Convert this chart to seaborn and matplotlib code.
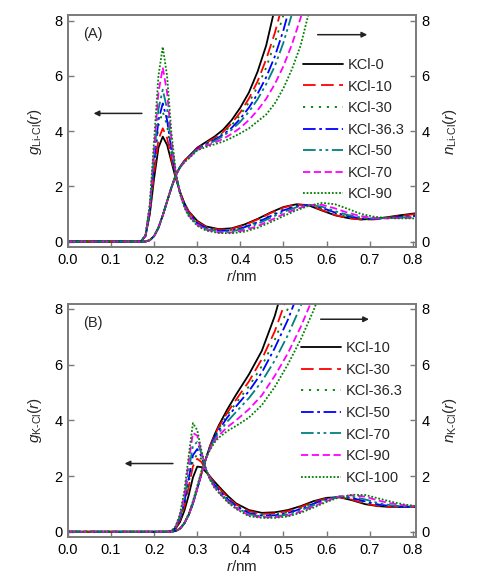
import numpy as np
import pandas as pd
import matplotlib
matplotlib.use("Agg")
import matplotlib.pyplot as plt
import seaborn as sns

# ---------------- data ----------------
# Panel A : Li-Cl
seriesA = ["KCl-0", "KCl-10", "KCl-30", "KCl-36.3", "KCl-50", "KCl-70", "KCl-90"]
r_gA = [0.00, 0.16, 0.17, 0.18, 0.19, 0.20, 0.21, 0.22, 0.23, 0.24, 0.25, 0.26, 0.27, 0.28,
        0.30, 0.32, 0.35, 0.38, 0.41, 0.44, 0.47, 0.50, 0.53, 0.56, 0.59, 0.62, 0.65, 0.68,
        0.71, 0.74, 0.77, 0.81]
gA_0 = [0, 0, 0.02, 0.20, 1.00, 2.30, 3.40, 3.80, 3.50, 2.90, 2.30, 1.80, 1.40, 1.10,
        0.75, 0.55, 0.45, 0.48, 0.62, 0.82, 1.05, 1.25, 1.35, 1.30, 1.12, 0.95, 0.85, 0.80,
        0.82, 0.88, 0.95, 1.03]
gA_10 = [0, 0, 0.02, 0.20, 1.05, 2.50, 3.70, 4.10, 3.75, 3.00, 2.35, 1.80, 1.38, 1.08,
         0.72, 0.53, 0.43, 0.46, 0.60, 0.80, 1.03, 1.23, 1.35, 1.32, 1.14, 0.96, 0.85, 0.80,
         0.80, 0.86, 0.93, 1.00]
gA_30 = [0, 0, 0.02, 0.22, 1.10, 2.80, 4.20, 4.70, 4.20, 3.20, 2.40, 1.78, 1.34, 1.03,
         0.68, 0.50, 0.40, 0.42, 0.54, 0.72, 0.95, 1.16, 1.30, 1.33, 1.20, 1.02, 0.90, 0.83,
         0.82, 0.86, 0.90, 0.95]
gA_363 = [0, 0, 0.02, 0.22, 1.15, 2.90, 4.40, 5.00, 4.40, 3.30, 2.42, 1.77, 1.32, 1.01,
          0.66, 0.49, 0.39, 0.40, 0.52, 0.70, 0.92, 1.13, 1.28, 1.33, 1.22, 1.05, 0.92, 0.84,
          0.82, 0.85, 0.89, 0.93]
gA_50 = [0, 0, 0.02, 0.23, 1.20, 3.10, 4.80, 5.50, 4.80, 3.45, 2.45, 1.75, 1.30, 0.98,
         0.63, 0.46, 0.36, 0.37, 0.47, 0.64, 0.86, 1.07, 1.24, 1.33, 1.26, 1.10, 0.96, 0.87,
         0.83, 0.84, 0.87, 0.90]
gA_70 = [0, 0, 0.02, 0.24, 1.30, 3.40, 5.40, 6.30, 5.40, 3.70, 2.50, 1.73, 1.27, 0.95,
         0.60, 0.43, 0.33, 0.33, 0.41, 0.56, 0.77, 0.99, 1.18, 1.32, 1.33, 1.20, 1.04, 0.92,
         0.86, 0.84, 0.85, 0.86]
gA_90 = [0, 0, 0.02, 0.25, 1.40, 3.70, 6.00, 7.05, 6.00, 3.95, 2.55, 1.72, 1.24, 0.92,
         0.57, 0.40, 0.31, 0.30, 0.36, 0.50, 0.70, 0.92, 1.13, 1.30, 1.40, 1.35, 1.18, 1.00,
         0.90, 0.85, 0.84, 0.84]

r_nA = [0.00, 0.17, 0.18, 0.19, 0.20, 0.21, 0.22, 0.23, 0.24, 0.25, 0.26, 0.27, 0.28,
        0.30, 0.32, 0.34, 0.36, 0.38, 0.40, 0.42, 0.44, 0.46, 0.48, 0.50, 0.52, 0.54, 0.56, 0.58]
nA_0 = [0, 0, 0, 0.05, 0.20, 0.50, 0.95, 1.45, 1.95, 2.40, 2.70, 2.92, 3.08,
        3.40, 3.60, 3.80, 4.05, 4.40, 4.85, 5.40, 6.15, 7.10, 8.45, 10.0, 11.6, 13.2, 14.8, 16.4]
nA_10 = [0, 0, 0, 0.05, 0.20, 0.50, 0.95, 1.45, 1.95, 2.40, 2.70, 2.92, 3.08,
         3.38, 3.57, 3.75, 3.97, 4.28, 4.68, 5.18, 5.80, 6.60, 7.55, 8.70, 10.2, 11.8, 13.4, 15.0]
nA_30 = [0, 0, 0, 0.05, 0.20, 0.50, 0.95, 1.45, 1.95, 2.40, 2.70, 2.91, 3.06,
         3.37, 3.55, 3.72, 3.93, 4.22, 4.58, 5.04, 5.60, 6.30, 7.20, 8.20, 9.60, 11.2, 12.8, 14.4]
nA_363 = [0, 0, 0, 0.05, 0.20, 0.50, 0.95, 1.45, 1.95, 2.40, 2.69, 2.90, 3.05,
          3.35, 3.52, 3.68, 3.87, 4.12, 4.45, 4.85, 5.35, 5.95, 6.70, 7.65, 8.80, 10.3, 11.9, 13.5]
nA_50 = [0, 0, 0, 0.05, 0.20, 0.50, 0.95, 1.45, 1.95, 2.40, 2.69, 2.89, 3.04,
         3.34, 3.50, 3.64, 3.82, 4.05, 4.34, 4.70, 5.15, 5.70, 6.35, 7.20, 8.25, 9.60, 11.1, 12.7]
nA_70 = [0, 0, 0, 0.05, 0.20, 0.50, 0.95, 1.45, 1.95, 2.40, 2.68, 2.88, 3.02,
         3.32, 3.46, 3.58, 3.72, 3.90, 4.12, 4.40, 4.75, 5.17, 5.70, 6.35, 7.15, 8.10, 9.50, 11.0]
nA_90 = [0, 0, 0, 0.05, 0.20, 0.50, 0.95, 1.45, 1.95, 2.40, 2.68, 2.87, 3.00,
         3.30, 3.42, 3.52, 3.62, 3.76, 3.92, 4.10, 4.35, 4.60, 5.00, 5.55, 6.25, 7.10, 8.35, 10.0]

# Panel B : K-Cl
seriesB = ["KCl-10", "KCl-30", "KCl-36.3", "KCl-50", "KCl-70", "KCl-90", "KCl-100"]
r_gB = [0.00, 0.22, 0.23, 0.24, 0.25, 0.26, 0.27, 0.28, 0.29, 0.30, 0.31, 0.32, 0.33, 0.34,
        0.35, 0.37, 0.39, 0.42, 0.45, 0.48, 0.51, 0.54, 0.57, 0.60, 0.63, 0.66, 0.69, 0.72,
        0.75, 0.78, 0.81]
gB_10 = [0, 0, 0, 0.02, 0.12, 0.35, 0.75, 1.30, 1.95, 2.34, 2.32, 2.15, 1.98, 1.80,
         1.63, 1.30, 1.02, 0.78, 0.68, 0.70, 0.78, 0.92, 1.10, 1.22, 1.24, 1.13, 0.99, 0.92,
         0.89, 0.89, 0.90]
gB_30 = [0, 0, 0, 0.02, 0.14, 0.42, 0.90, 1.60, 2.35, 2.62, 2.50, 2.20, 1.96, 1.76,
         1.58, 1.25, 0.98, 0.74, 0.64, 0.66, 0.74, 0.89, 1.07, 1.20, 1.24, 1.15, 1.01, 0.93,
         0.89, 0.89, 0.90]
gB_363 = [0, 0, 0, 0.02, 0.15, 0.45, 0.98, 1.75, 2.55, 2.78, 2.60, 2.22, 1.94, 1.72,
          1.54, 1.21, 0.95, 0.70, 0.61, 0.62, 0.70, 0.85, 1.04, 1.19, 1.25, 1.18, 1.05, 0.96,
          0.91, 0.90, 0.90]
gB_50 = [0, 0, 0, 0.02, 0.16, 0.50, 1.05, 1.90, 2.75, 2.97, 2.70, 2.24, 1.92, 1.69,
         1.50, 1.18, 0.92, 0.67, 0.58, 0.59, 0.67, 0.82, 1.01, 1.17, 1.26, 1.21, 1.09, 0.98,
         0.92, 0.90, 0.90]
gB_70 = [0, 0, 0, 0.02, 0.17, 0.55, 1.15, 2.15, 3.10, 3.22, 2.80, 2.24, 1.90, 1.65,
         1.46, 1.13, 0.88, 0.63, 0.55, 0.55, 0.62, 0.77, 0.96, 1.13, 1.27, 1.26, 1.16, 1.03,
         0.95, 0.91, 0.90]
gB_90 = [0, 0, 0, 0.03, 0.19, 0.60, 1.30, 2.50, 3.55, 3.45, 2.85, 2.24, 1.87, 1.60,
         1.42, 1.09, 0.85, 0.59, 0.52, 0.52, 0.58, 0.72, 0.91, 1.10, 1.27, 1.31, 1.26, 1.12,
         1.02, 0.95, 0.91]
gB_100 = [0, 0, 0, 0.03, 0.20, 0.65, 1.45, 2.70, 3.90, 3.65, 2.90, 2.25, 1.85, 1.58,
          1.40, 1.07, 0.82, 0.56, 0.50, 0.50, 0.55, 0.68, 0.87, 1.07, 1.24, 1.33, 1.32, 1.20,
          1.08, 0.98, 0.92]

r_nB = [0.00, 0.24, 0.25, 0.26, 0.27, 0.28, 0.29, 0.30, 0.31, 0.32, 0.33, 0.34, 0.35,
        0.37, 0.39, 0.42, 0.45, 0.48, 0.51, 0.54, 0.57, 0.60]
nB_10 = [0, 0, 0.03, 0.11, 0.30, 0.60, 1.02, 1.55, 2.10, 2.62, 3.10, 3.48, 3.82,
         4.40, 4.92, 5.65, 6.50, 7.75, 9.40, 11.0, 12.7, 14.4]
nB_30 = [0, 0, 0.03, 0.11, 0.30, 0.60, 1.02, 1.55, 2.10, 2.62, 3.08, 3.45, 3.77,
         4.28, 4.74, 5.40, 6.20, 7.20, 8.50, 10.0, 11.6, 13.2]
nB_363 = [0, 0, 0.03, 0.11, 0.30, 0.60, 1.02, 1.55, 2.10, 2.62, 3.06, 3.42, 3.71,
          4.20, 4.62, 5.22, 5.95, 6.90, 8.00, 9.40, 10.9, 12.5]
nB_50 = [0, 0, 0.03, 0.11, 0.30, 0.60, 1.02, 1.55, 2.10, 2.62, 3.04, 3.38, 3.65,
         4.11, 4.50, 5.05, 5.72, 6.60, 7.60, 8.80, 10.2, 11.8]
nB_70 = [0, 0, 0.03, 0.11, 0.30, 0.60, 1.02, 1.55, 2.10, 2.62, 3.01, 3.32, 3.56,
         3.96, 4.30, 4.80, 5.40, 6.15, 7.05, 8.10, 9.30, 10.8]
nB_90 = [0, 0, 0.03, 0.11, 0.30, 0.60, 1.02, 1.55, 2.10, 2.62, 2.98, 3.25, 3.46,
         3.76, 4.00, 4.40, 4.90, 5.60, 6.40, 7.35, 8.45, 9.80]
nB_100 = [0, 0, 0.03, 0.12, 0.32, 0.65, 1.10, 1.65, 2.20, 2.65, 2.95, 3.20, 3.38,
          3.62, 3.80, 4.10, 4.55, 5.20, 6.00, 6.90, 7.95, 9.20]

gA = [gA_0, gA_10, gA_30, gA_363, gA_50, gA_70, gA_90]
nA = [nA_0, nA_10, nA_30, nA_363, nA_50, nA_70, nA_90]
gB = [gB_10, gB_30, gB_363, gB_50, gB_70, gB_90, gB_100]
nB = [nB_10, nB_30, nB_363, nB_50, nB_70, nB_90, nB_100]

# ---------------- styles ----------------
colors = ["#000000", "#ff0000", "#008000", "#0000ff", "#008080", "#ff00ff", "#008000"]
styles = ["-", (0, (7, 3)), (0, (1.2, 3.2)), (0, (7, 2, 1.5, 2)),
          (0, (7, 2, 1.5, 2, 1.5, 2)), (0, (4, 2)), (0, (1, 1))]

sns.set_theme(style="ticks")
plt.rcParams["font.family"] = ["Liberation Sans", "DejaVu Sans"]
plt.rcParams["mathtext.fontset"] = "custom"
plt.rcParams["mathtext.rm"] = "Liberation Sans"
plt.rcParams["mathtext.it"] = "Liberation Sans:italic"

spine_c = "#7a7a7a"
fig = plt.figure(figsize=(4.89, 5.8), dpi=100)


def panel(rect, names, r_g, gs, r_n, ns, tag, glabel, nlabel, ylim, leg_anchor,
          larrow, rarrow):
    ax = fig.add_axes(rect)
    ax2 = ax.twinx()
    handles = []
    for name, g, n, c, ls in zip(names, gs, ns, colors, styles):
        dfg = pd.DataFrame({"r": r_g, "v": g})
        dfn = pd.DataFrame({"r": r_n, "v": n})
        sns.lineplot(data=dfg, x="r", y="v", ax=ax, color=c, linestyle=ls, lw=1.3,
                     legend=False)
        sns.lineplot(data=dfn, x="r", y="v", ax=ax2, color=c, linestyle=ls, lw=1.3,
                     legend=False)
        handles.append(plt.Line2D([], [], color=c, linestyle=ls, lw=1.3, label=name))
    for a in (ax, ax2):
        a.set_xlim(0, 0.808)
        a.set_ylim(*ylim)
        a.set_yticks([0, 2, 4, 6, 8])
        for s in a.spines.values():
            s.set_color(spine_c)
            s.set_linewidth(1.2)
        a.tick_params(direction="in", length=4, width=1, color=spine_c,
                      labelsize=10.5, labelcolor="black", pad=4)
    ax.set_xticks(np.arange(0, 0.81, 0.1))
    ax.set_xticklabels([f"{v:.1f}" for v in np.arange(0, 0.81, 0.1)])
    ax.set_xlabel(r"$r$/nm", fontsize=11, labelpad=2)
    ax.set_ylabel(glabel, fontsize=11, labelpad=7)
    ax2.set_ylabel(nlabel, fontsize=11, labelpad=8)
    ax.text(0.035, ylim[1] - 0.7, tag, fontsize=10.5, va="center", ha="left")
    ax.annotate("", xy=(larrow[1], larrow[2]), xytext=(larrow[0], larrow[2]),
                arrowprops=dict(arrowstyle="-|>", color="#222222", lw=1.1,
                                mutation_scale=8))
    ax.annotate("", xy=(rarrow[1], rarrow[2]), xytext=(rarrow[0], rarrow[2]),
                arrowprops=dict(arrowstyle="-|>", color="#222222", lw=1.1,
                                mutation_scale=8))
    ax2.legend(handles=handles, loc="upper left", bbox_to_anchor=leg_anchor,
               frameon=False, fontsize=10.5, handlelength=2.75, handletextpad=0.3,
               labelspacing=0.52, borderaxespad=0, borderpad=0)
    return ax, ax2


panel([0.139, 0.574, 0.712, 0.400], seriesA, r_gA, gA, r_nA, nA, "(A)",
      r"$g_{\mathrm{Li}\text{-}\mathrm{Cl}}(r)$", r"$n_{\mathrm{Li}\text{-}\mathrm{Cl}}(r)$",
      (-0.2, 8.2), (0.675, 0.815), (0.178, 0.053, 4.64), (0.573, 0.701, 7.49))
panel([0.139, 0.074, 0.712, 0.402], seriesB, r_gB, gB, r_nB, nB, "(B)",
      r"$g_{\mathrm{K}\text{-}\mathrm{Cl}}(r)$", r"$n_{\mathrm{K}\text{-}\mathrm{Cl}}(r)$",
      (-0.19, 8.18), (0.67, 0.84), (0.25, 0.125, 2.45), (0.58, 0.705, 7.63))

fig.savefig("out.png", dpi=100)
